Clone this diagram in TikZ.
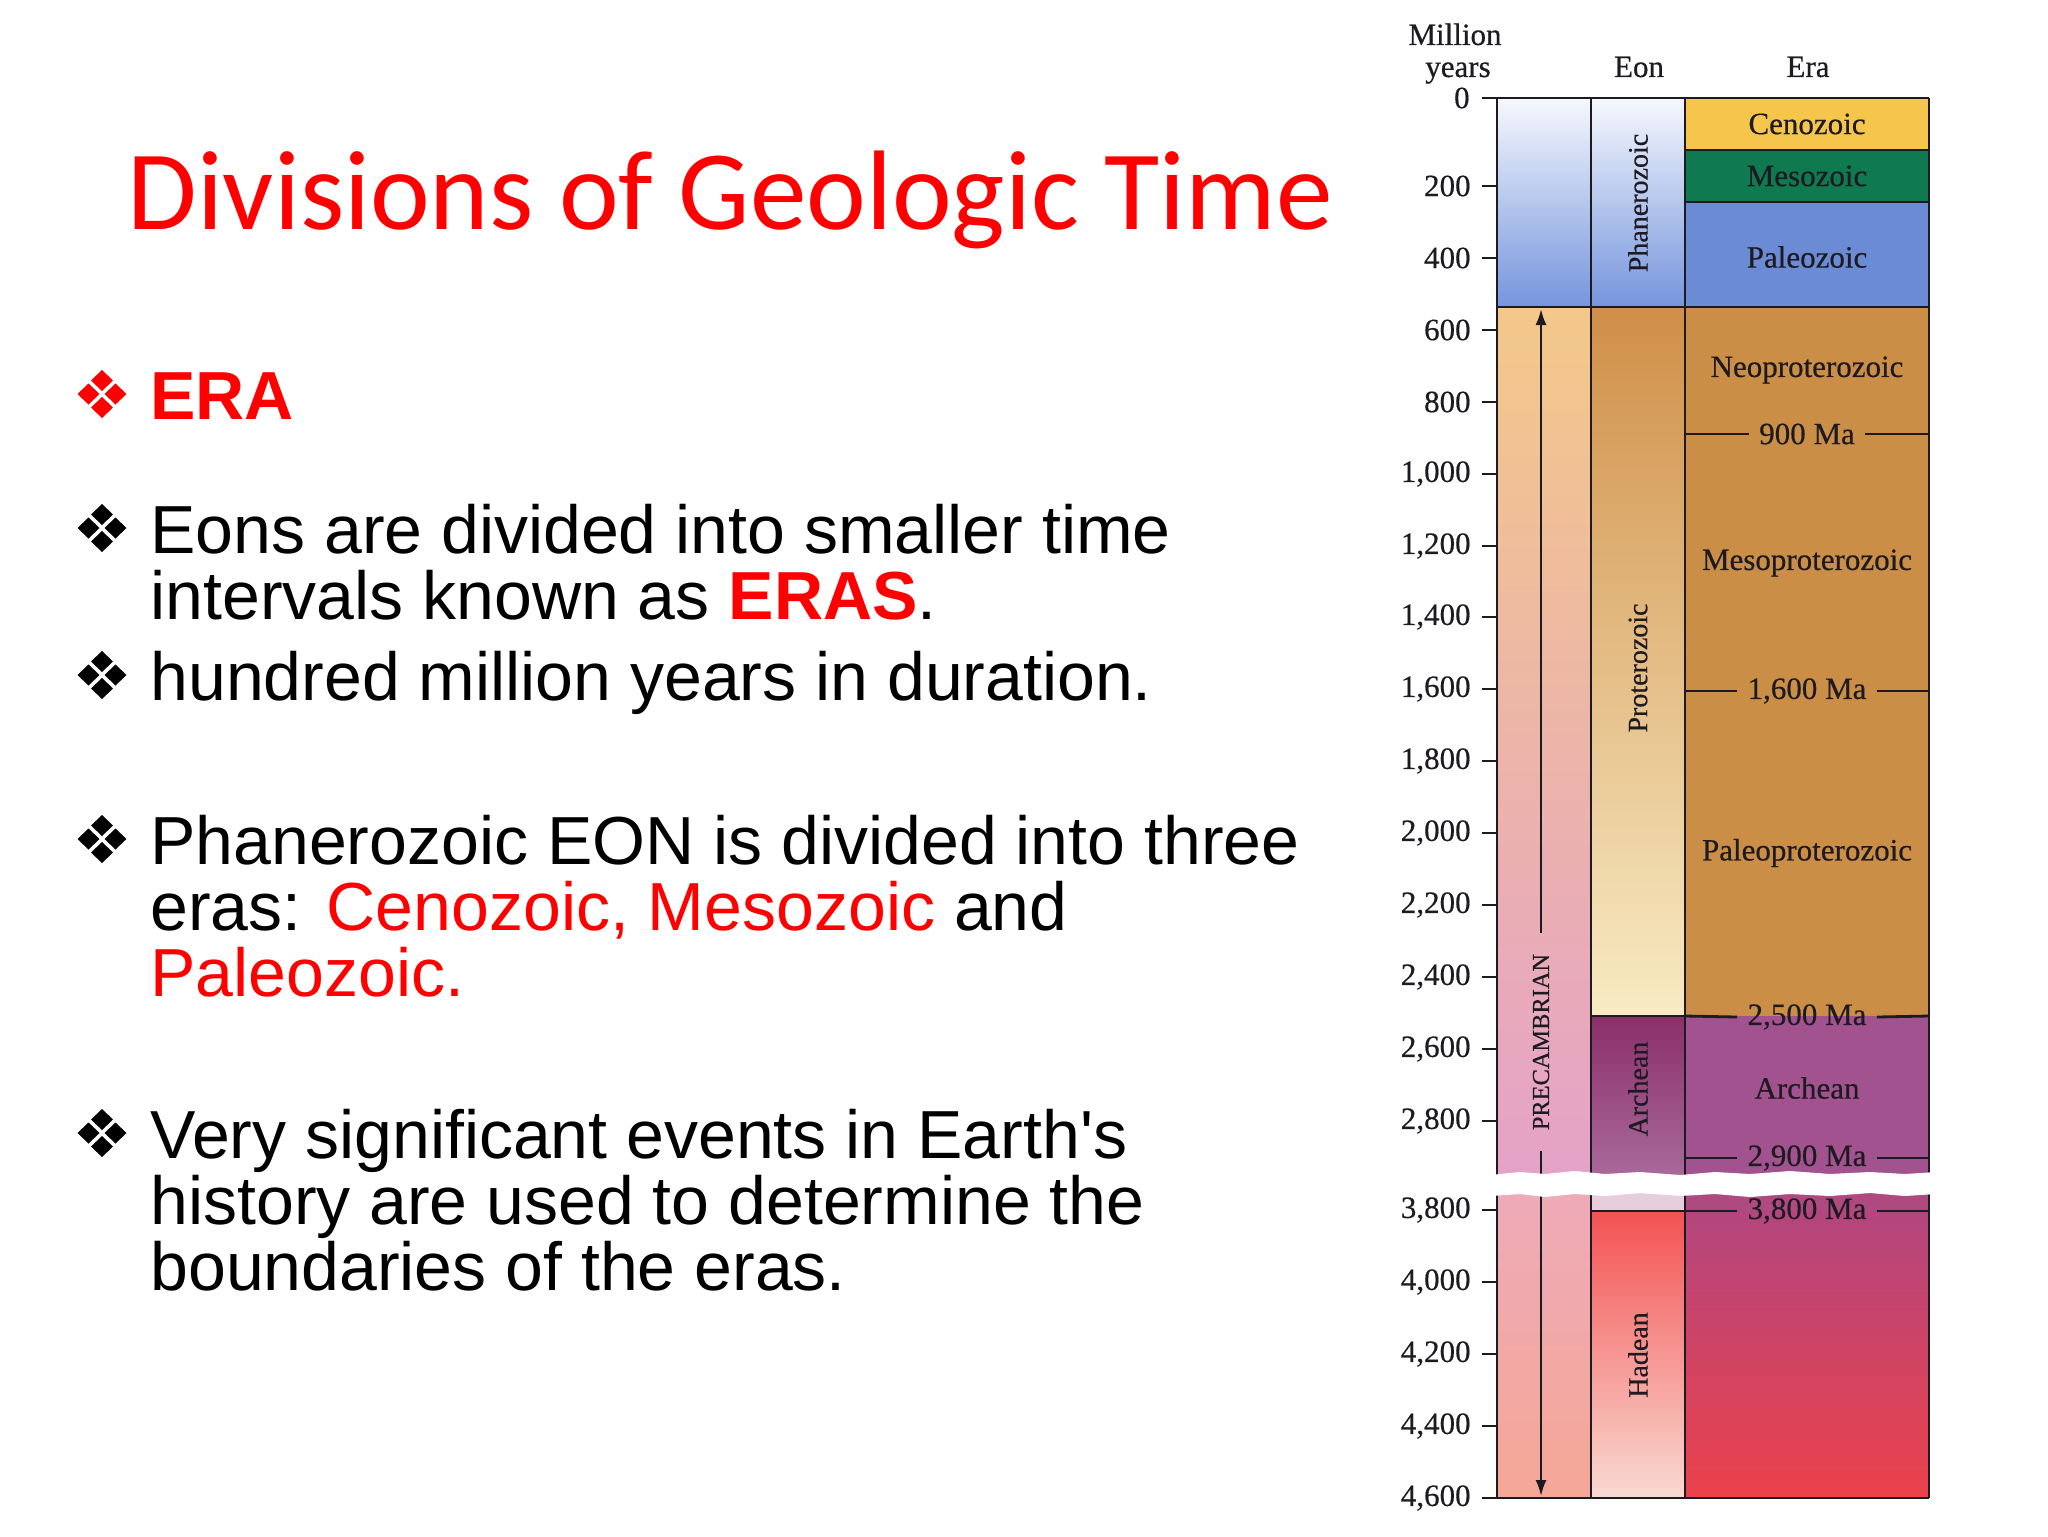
\documentclass[tikz,border=0pt]{standalone}
\usepackage{fontspec}
\newfontfamily\titlefont{Carlito}
\newfontfamily\bodyfont{Liberation Sans}
\newfontfamily\chartfont[FakeBold=0.5]{Liberation Serif}
\usetikzlibrary{arrows.meta}
\definecolor{tred}{HTML}{FF0000}
\definecolor{chartink}{HTML}{1E1A22}
\definecolor{phtop}{HTML}{F6F8FD}
\definecolor{phbot}{HTML}{7595DD}
\definecolor{ceno}{HTML}{F6C64C}
\definecolor{meso}{HTML}{0F7A4F}
\definecolor{paleo}{HTML}{6B8CD4}
\definecolor{pcA}{HTML}{F3C889}
\definecolor{pcB}{HTML}{EBB0A8}
\definecolor{pcC}{HTML}{E5A2C8}
\definecolor{pcD}{HTML}{EEAAB8}
\definecolor{pcE}{HTML}{F5A896}
\definecolor{prEonTop}{HTML}{D08F48}
\definecolor{prEonBot}{HTML}{F8EBC3}
\definecolor{prEra}{HTML}{CA8E47}
\definecolor{arEonTop}{HTML}{8B2F6A}
\definecolor{arEonBot}{HTML}{A8699A}
\definecolor{arEra}{HTML}{A2528F}
\definecolor{arEonLow}{HTML}{E6CEDC}
\definecolor{arEraLow}{HTML}{AE4A80}
\definecolor{haEonTop}{HTML}{F35252}
\definecolor{haEonBot}{HTML}{F9DAD2}
\definecolor{haEraTop}{HTML}{B3467E}
\definecolor{haEraBot}{HTML}{EC414A}
\newcommand{\qbul}[3]{%
  \foreach \dx/\dy in {0/-13.5,-13.5/0,13.5/0,0/13.5}{%
    \fill[#3] ({#1+\dx-11},{#2+\dy}) -- ({#1+\dx},{#2+\dy-10.5}) -- ({#1+\dx+11},{#2+\dy}) -- ({#1+\dx},{#2+\dy+10.5}) -- cycle;}}
\begin{document}
\begin{tikzpicture}[x=0.5pt,y=-0.5pt,
  chartline/.style={draw=chartink,line width=1.4pt},
  body/.style={anchor=base west,inner sep=0pt,font=\bodyfont\fontsize{34}{40}\selectfont},
  chartlbl/.style={inner sep=0pt,text=chartink,font=\chartfont\fontsize{15.5}{18}\selectfont},
  malbl/.style={chartlbl,inner xsep=5pt},
  eonlbl/.style={inner sep=0pt,text=chartink,rotate=90,font=\chartfont\fontsize{14}{16}\selectfont},
  ticklbl/.style={chartlbl,anchor=east},
  hdr/.style={chartlbl,anchor=base},
  pcarrow/.style={draw=chartink,line width=1.1pt,-{Latex[length=8pt,width=5.5pt]}}]
\useasboundingbox (0,0) rectangle (2048,1536);
\fill[white] (0,0) rectangle (2048,1536);

% ---------- left text ----------
\node[anchor=base west,inner sep=0pt,text=tred,font=\titlefont\fontsize{56.6}{60}\selectfont] (title) at (127,229) {Divisions of Geologic Time};

\qbul{102}{394}{tred}
\node[body,text=tred,font=\bodyfont\bfseries\fontsize{34}{40}\selectfont] (era) at (150,419) {ERA};

\qbul{102}{528}{black}
\node[body] (l1) at (150,553) {Eons are divided into smaller time};
\node[body] (l2) at (150,619) {intervals known as {\bfseries\color{tred}ERAS}.};
\qbul{102}{675}{black}
\node[body] (l3) at (150,700) {hundred million years in duration.};

\qbul{102}{839}{black}
\node[body] (l4) at (150,864) {Phanerozoic EON is divided into three};
\node[body] (l5) at (150,930) {eras: {\color{tred}Cenozoic, Mesozoic} and};
\node[body,text=tred] (l6) at (150,996) {Paleozoic.};

\qbul{102}{1133}{black}
\node[body] (l7) at (150,1158) {Very significant events in Earth's};
\node[body] (l8) at (150,1224) {history are used to determine the};
\node[body] (l9) at (150,1290) {boundaries of the eras.};

% ---------- chart fills ----------
\shade[top color=phtop,bottom color=phbot] (1497,98) rectangle (1685,307);
\fill[ceno] (1685,98) rectangle (1929,150);
\fill[meso] (1685,150) rectangle (1929,202);
\fill[paleo] (1685,202) rectangle (1929,307);
\shade[top color=pcA,middle color=pcB,bottom color=pcC] (1497,307) rectangle (1591,1175);
\shade[top color=pcD,bottom color=pcE] (1497,1193) rectangle (1591,1498);
\shade[top color=prEonTop,bottom color=prEonBot] (1591,307) rectangle (1685,1016);
\fill[prEra] (1685,307) rectangle (1929,1016);
\shade[top color=arEonTop,bottom color=arEonBot] (1591,1016) rectangle (1685,1175);
\fill[arEra] (1685,1016) rectangle (1929,1175);
\fill[arEonLow] (1591,1193) rectangle (1685,1211);
\fill[arEraLow] (1685,1193) rectangle (1929,1211);
\shade[top color=haEonTop,bottom color=haEonBot] (1591,1211) rectangle (1685,1498);
\shade[top color=haEraTop,bottom color=haEraBot] (1685,1211) rectangle (1929,1498);

% ---------- chart lines ----------
\draw[chartline] (1482,98) -- (1929,98);
\draw[chartline] (1482,1498) -- (1929,1498);
\draw[chartline] (1497,98) -- (1497,1498);
\draw[chartline] (1591,98) -- (1591,1498);
\draw[chartline] (1685,98) -- (1685,1498);
\draw[chartline] (1929,98) -- (1929,1498);
\draw[chartline] (1497,307) -- (1929,307);
\draw[chartline] (1685,150) -- (1929,150);
\draw[chartline] (1685,202) -- (1929,202);
\draw[chartline] (1591,1016) -- (1685,1016);
\draw[chartline] (1591,1211) -- (1685,1211);

\foreach \yy/\lbl in {186/200,258/400,330/600,402/800,474/{1,000},546/{1,200},617/{1,400},689/{1,600},761/{1,800},833/{2,000},905/{2,200},977/{2,400},1049/{2,600},1121/{2,800},1210/{3,800},1282/{4,000},1354/{4,200},1426/{4,400},1498/{4,600}}{
  \draw[chartline] (1482,\yy) -- (1497,\yy);
  \node[ticklbl] (tick\yy) at (1471,\yy) {\lbl};
}
\node[ticklbl] (tick0) at (1470,98) {0};

% headers
\node[hdr] (hmil) at (1455,45) {Million};
\node[hdr] (hyrs) at (1458,77) {years};
\node[hdr] (heon) at (1639,77) {Eon};
\node[hdr] (hera) at (1808,77) {Era};

% Precambrian arrow
\node[eonlbl,font=\chartfont\fontsize{12.2}{14}\selectfont,inner xsep=10pt] (pc) at (1541,1042) {PRECAMBRIAN};
\coordinate (pctop) at (1541,309);
\coordinate (pcbot) at (1541,1496);
\draw[pcarrow] (pc.east) -- (pctop);
\draw[pcarrow] (pc.west) -- (pcbot);

% era boundary labels (upper part)
\node[malbl] (m900) at (1807,434) {900 Ma};
\draw[chartline] (1685,434) -- (m900.west);
\draw[chartline] (m900.east) -- (1929,434);
\node[malbl] (m1600) at (1807,691) {1,600 Ma};
\draw[chartline] (1685,691) -- (m1600.west);
\draw[chartline] (m1600.east) -- (1929,691);
\node[malbl] (m2500) at (1807,1017) {2,500 Ma};
\draw[chartline] (1685,1016) -- (m2500.west);
\draw[chartline] (m2500.east) -- (1929,1016);
\node[malbl] (m2900) at (1807,1158) {2,900 Ma};
\draw[chartline] (1685,1158) -- (m2900.west);
\draw[chartline] (m2900.east) -- (1929,1158);

% break band
\fill[white] (1490,1175) -- (1520,1172) -- (1545,1174) -- (1575,1171) -- (1605,1174) -- (1640,1172) -- (1680,1175) -- (1715,1172) -- (1750,1174) -- (1790,1171) -- (1830,1174) -- (1870,1172) -- (1905,1174) -- (1936,1172)
  -- (1936,1194) -- (1905,1196) -- (1870,1193) -- (1830,1196) -- (1790,1194) -- (1750,1197) -- (1715,1194) -- (1680,1196) -- (1640,1193) -- (1605,1196) -- (1575,1194) -- (1545,1197) -- (1520,1194) -- (1490,1196) -- cycle;

\node[malbl] (m3800) at (1807,1211) {3,800 Ma};
\draw[chartline] (1685,1211) -- (m3800.west);
\draw[chartline] (m3800.east) -- (1929,1211);

% era names
\node[chartlbl] (ceno) at (1807,124) {Cenozoic};
\node[chartlbl] (meso) at (1807,176) {Mesozoic};
\node[chartlbl] (paleo) at (1807,257) {Paleozoic};
\node[chartlbl] (neop) at (1807,370) {Neoproterozoic};
\node[chartlbl] (mesop) at (1807,563) {Mesoproterozoic};
\node[chartlbl] (paleop) at (1807,853) {Paleoproterozoic};
\node[chartlbl] (arch) at (1807,1088) {Archean};

% eon names
\node[eonlbl] (phan) at (1638,203) {Phanerozoic};
\node[eonlbl] (prot) at (1638,668) {Proterozoic};
\node[eonlbl] (arcE) at (1638,1089) {Archean};
\node[eonlbl] (hade) at (1638,1355) {Hadean};
\end{tikzpicture}
\end{document}
